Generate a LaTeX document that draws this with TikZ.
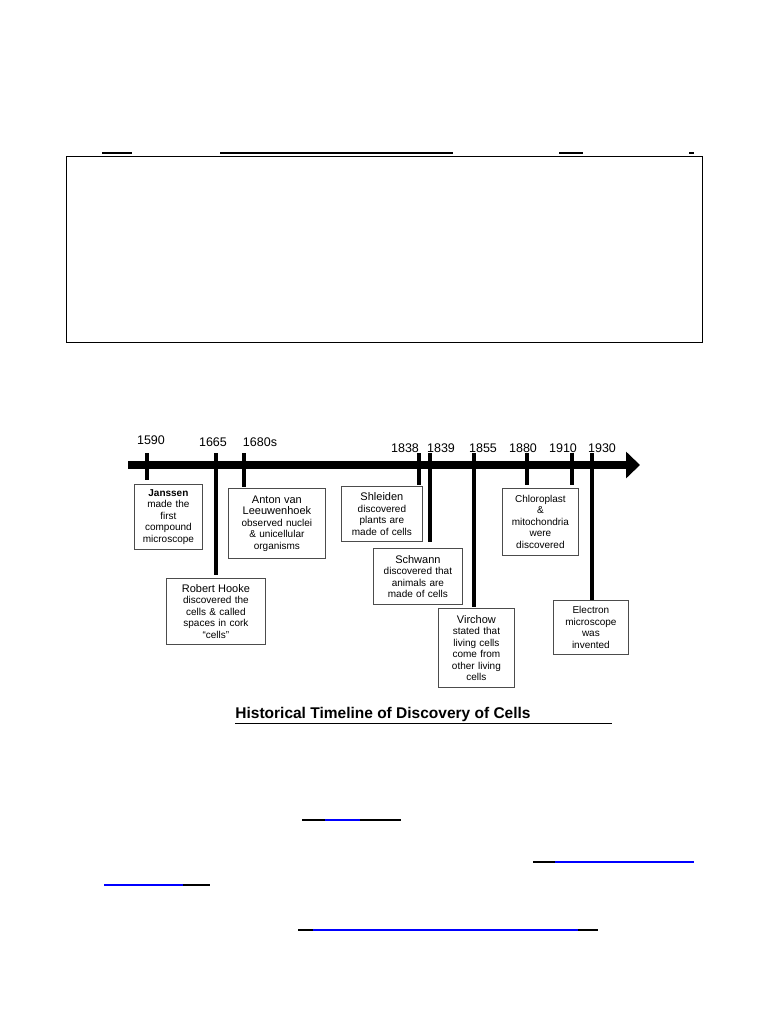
\documentclass[tikz,border=0pt]{standalone}
\usepackage{fontspec}
\setmainfont{Liberation Sans}
\usetikzlibrary{arrows.meta}
\begin{document}
\begin{tikzpicture}[x=1pt,y=-1pt,
  ev/.style={draw=black!70,line width=0.8pt,align=center,font=\fontsize{10}{11.5}\selectfont,inner sep=1pt,anchor=north west},
  yr/.style={font=\fontsize{12.5}{13}\selectfont,anchor=base},
  tick/.style={line width=3.5pt},
  rule/.style={line width=1.2pt},
  blu/.style={line width=1.2pt,blue}]
\useasboundingbox (0,0) rectangle (768,1024);
% header rules and box
\draw[rule] (102,153) -- (132,153);
\draw[rule] (220,153) -- (453,153);
\draw[rule] (559,153) -- (583,153);
\draw[rule] (689,153) -- (694,153);
\draw[line width=0.8pt] (66,156) rectangle (702,342);
% axis
\coordinate (a0) at (128,465);
\coordinate (a1) at (640,465);
\draw[line width=8pt,-{Triangle[length=14pt,width=26pt]}] (a0) -- (a1);
% ticks
\draw[tick] (147,453) -- (147,480);
\draw[tick] (216,453) -- (216,575);
\draw[tick] (244,453) -- (244,487);
\draw[tick] (419,453) -- (419,485);
\draw[tick] (430,453) -- (430,542);
\draw[tick] (474,453) -- (474,607);
\draw[tick] (527,453) -- (527,485);
\draw[tick] (572,453) -- (572,485);
\draw[tick] (592,453) -- (592,600);
% years
\node[yr] (y1) at (151,444) {1590};
\node[yr] (y2) at (213,446) {1665};
\node[yr] (y3) at (260,446) {1680s};
\node[yr] (y4) at (405,452) {1838};
\node[yr] (y5) at (441,452) {1839};
\node[yr] (y6) at (483,452) {1855};
\node[yr] (y7) at (523,452) {1880};
\node[yr] (y8) at (563,452) {1910};
\node[yr] (y9) at (602,452) {1930};
% events
\node[ev,text width=66pt,minimum height=65pt] (e1) at (134,484) {\textbf{Janssen}\\made the\\first\\compound\\microscope};
\node[ev,text width=97pt,minimum height=66pt] (e2) at (166,578) {{\fontsize{11}{12}\selectfont Robert Hooke}\\discovered the\\cells \& called\\spaces in cork\\“cells”};
\node[ev,text width=95pt,minimum height=70pt] (e3) at (228,488) {{\fontsize{11}{12}\selectfont Anton van}\\{\fontsize{11}{12}\selectfont Leeuwenhoek}\\observed nuclei\\\& unicellular\\organisms};
\node[ev,text width=79pt,minimum height=55pt] (e4) at (341,486) {{\fontsize{11}{12}\selectfont Shleiden}\\discovered\\plants are\\made of cells};
\node[ev,text width=87pt,minimum height=56pt] (e5) at (373,548) {{\fontsize{11}{12}\selectfont Schwann}\\discovered that\\animals are\\made of cells};
\node[ev,text width=74pt,minimum height=79pt] (e6) at (438,608) {{\fontsize{11}{12}\selectfont Virchow}\\stated that\\living cells\\come from\\other living\\cells};
\node[ev,text width=74pt,minimum height=67pt] (e7) at (502,488) {Chloroplast\\\&\\mitochondria\\were\\discovered};
\node[ev,text width=73pt,minimum height=54pt] (e8) at (553,600) {Electron\\microscope\\was\\invented};
% title
\node[font=\bfseries\fontsize{15.5}{17}\selectfont,inner sep=0pt] (t) at (383,714) {Historical Timeline of Discovery of Cells};
\draw[line width=0.9pt] (t.south west)++(0,2) -- ++(377,0);
% answer lines
\draw[rule] (302,820) -- (401,820);
\draw[blu] (325,820) -- (360,820);
\draw[rule] (533,862) -- (694,862);
\draw[blu] (555,862) -- (694,862);
\draw[rule] (104,885) -- (210,885);
\draw[blu] (104,885) -- (183,885);
\draw[rule] (298,930) -- (598,930);
\draw[blu] (313,930) -- (578,930);
\end{tikzpicture}
\end{document}
